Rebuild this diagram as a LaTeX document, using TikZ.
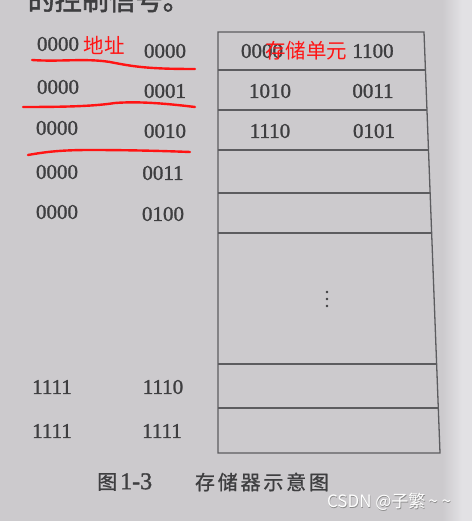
\documentclass[tikz,border=0pt]{standalone}
\usepackage{fontspec}
\setmainfont{Liberation Serif}
\newfontfamily\numfont{Liberation Serif}[FakeBold=1.3]
\newfontfamily\cjk{Noto Sans CJK SC}
\newfontfamily\topfont{Noto Sans CJK SC}[FakeBold=2]
\newfontfamily\capfont{Noto Sans CJK SC}[LetterSpace=14,FakeBold=1]
\definecolor{bg}{RGB}{204,202,205}
\definecolor{bgr}{RGB}{226,225,228}
\definecolor{ink}{RGB}{62,62,64}
\definecolor{tl}{RGB}{92,92,95}
\definecolor{annot}{RGB}{255,20,20}
\tikzset{
  num/.style={inner sep=0pt, text=ink, font=\numfont\fontsize{21}{23}\selectfont},
  redtxt/.style={inner sep=0pt, text=annot, font=\cjk\fontsize{20.5}{22}\selectfont},
  tabline/.style={draw=tl, line width=1.3pt},
  redline/.style={draw=annot, line width=2.4pt, line cap=round, line join=round},
  captxt/.style={inner sep=0pt, text=ink, font=\capfont\fontsize{20}{22}\selectfont},
}
\begin{document}
\begin{tikzpicture}[x=1pt,y=-1pt]
\useasboundingbox (0,0) rectangle (472,521);
\fill[bg] (0,0) rectangle (472,521);
\shade[left color=bg, right color=bgr] (442,0) rectangle (462,521);
\fill[bgr] (462,0) rectangle (472,521);
% top cut-off text
\begin{scope}
\clip (0,0) rectangle (472,521);
\node[inner sep=0pt, anchor=base east, text=ink, font=\topfont\fontsize{27}{29}\selectfont] (toptxt) at (190,10) {的控制信号。};
\end{scope}
% table
\coordinate (tl) at (218,32);
\coordinate (tr) at (424,32);
\coordinate (br) at (440,453);
\coordinate (bl) at (218,453);
\foreach \y in {70,110,150,193,233,364,408}
  \draw[tabline] (218,\y) -- ({424+(\y-32)*0.038},\y);
\draw[tabline] (tl) -- (tr) -- (br) -- (bl) -- cycle;
% cell contents
\node[num] (c1a) at (262,51) {0000};
\node[num] (c1b) at (373,51) {1100};
\node[num] (c2a) at (270,91) {1010};
\node[num] (c2b) at (373,91) {0011};
\node[num] (c3a) at (270,131) {1110};
\node[num] (c3b) at (374,131) {0101};
\foreach \y in {292,299,306}
  \fill[ink] (327,\y) circle (1.3pt);
% addresses
\node[num] (a1l) at (58,44) {0000};
\node[num] (a1r) at (165,51) {0000};
\node[num] (a2l) at (58,87) {0000};
\node[num] (a2r) at (165,91) {0001};
\node[num] (a3l) at (57,128) {0000};
\node[num] (a3r) at (165,131) {0010};
\node[num] (a4l) at (57,172) {0000};
\node[num] (a4r) at (163,173) {0011};
\node[num] (a5l) at (57,212) {0000};
\node[num] (a5r) at (163,214) {0100};
\node[num] (a6l) at (52,387) {1111};
\node[num] (a6r) at (163,387) {1110};
\node[num] (a7l) at (52,431) {1111};
\node[num] (a7r) at (162,431) {1111};
% red annotations
\node[redtxt] (addr) at (104,45) {地址};
\node[redtxt] (cell) at (306,51) {存储单元};
\draw[redline] (32,60) .. controls (60,62) and (85,58) .. (110,62) .. controls (135,67) and (150,69) .. (195,69);
\draw[redline] (23,107) .. controls (70,107) and (95,106) .. (115,103) .. controls (140,101) and (170,104) .. (195,107);
\draw[redline] (28,155) .. controls (45,152) and (60,150) .. (90,150) .. controls (130,150) and (165,151) .. (190,152);
% caption
\node[captxt, anchor=west] (cap1) at (97,482) {图\hspace{3pt}{\numfont\fontsize{24}{26}\selectfont 1-3}};
\node[captxt] (cap2) at (262,482) {存储器示意图};
% watermark
\node[inner sep=0pt, text=black!45, font=\cjk\fontsize{17}{19}\selectfont] (wms) at (389.6,502.6) {CSDN @子繁\,\textasciitilde\ \textasciitilde};
\node[inner sep=0pt, text=white, font=\cjk\fontsize{17}{19}\selectfont] (wm) at (389,502) {CSDN @子繁\,\textasciitilde\ \textasciitilde};
\end{tikzpicture}
\end{document}
